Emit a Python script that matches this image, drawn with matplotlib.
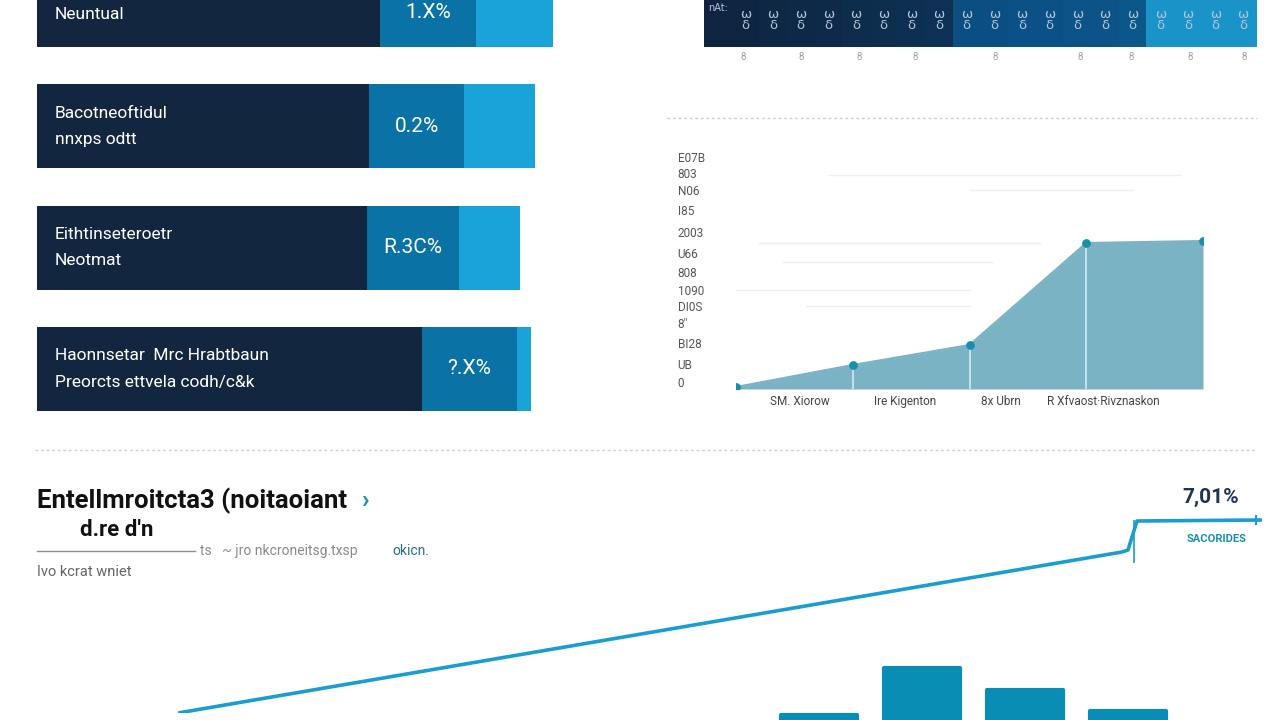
import matplotlib
matplotlib.use("Agg")
import matplotlib.pyplot as plt
from matplotlib.colors import LinearSegmentedColormap
import numpy as np

plt.rcParams['font.family'] = ['Roboto', 'DejaVu Sans']

# ---------------- data ----------------
bar_names = ["Neuntual", "Bacotneoftidul\nnnxps odtt", "Eithtinseteroetr\nNeotmat",
             "Haonnsetar  Mrc Hrabtbaun\nPreorcts ettvela codh/c&k"]
bar_pct = ["1.X%", "0.2%", "R.3C%", "?.X%"]
seg_dark = [343, 332, 330, 385]
seg_mid = [96, 95, 92, 95]
seg_light = [77, 71, 61, 14]

strip_vals = [0.00, 0.02, 0.04, 0.06, 0.08, 0.10, 0.12, 0.14, 0.16, 0.50, 0.50, 0.52,
              0.52, 0.54, 0.54, 0.56, 1.00, 1.00, 1.00, 1.00]
strip_glyphs = ["nAt:"] + ["ω\nδ"] * 19
strip_ticks = ["8", "8", "8", "8", "8", "8", "8", "8", "8"]

area_labels = ["SM. Xiorow", "Ire Kigenton", "8x Ubrn", "R Xfvaost·Rivznaskon"]
area_vals = [2, 24, 44, 146, 148]
area_ytick_vals = [232, 216, 199, 179, 157, 136, 117, 99, 83, 66, 46, 25, 7]
area_ytick_labels = ["E07B", "803", "N06", "I85", "2003", "U66", "808", "1090",
                     "DI0S", "8\"", "BI28", "UB", "0"]

trend_x = [0, 944, 950, 959, 1084]
trend_y = [0, 161, 163, 192, 193]

bottom_bars = [45, 92, 70, 49]

DARK = "#13263f"
MID = "#0b72a6"
LIGHT = "#1aa3d8"

fig = plt.figure(figsize=(12.8, 7.2), dpi=100)
fig.patch.set_facecolor("white")


def px_axes(x0, y0, x1, y1, **kw):
    return fig.add_axes([x0 / 1280, 1 - y1 / 720, (x1 - x0) / 1280, (y1 - y0) / 720], **kw)


# ---------------- left stacked bars ----------------
axb = px_axes(37, -60, 553, 430)
pos = np.arange(len(seg_dark))
h = 84 / 121.33
axb.barh(pos, seg_dark, height=h, color=DARK)
axb.barh(pos, seg_mid, left=seg_dark, height=h, color=MID)
axb.barh(pos, seg_light, left=np.array(seg_dark) + np.array(seg_mid), height=h, color=LIGHT)
axb.set_xlim(0, 516)
axb.set_ylim(3 + 61 / 121.33, -65 / 121.33)
axb.axis("off")
for i, (nm, pc) in enumerate(zip(bar_names, bar_pct)):
    dy_name = 0.075 if i == 0 else 0.0
    dy_pct = 0.06 if i == 0 else 0.0
    axb.text(18, i + dy_name, nm, color="white", fontsize=12.5, va="center", ha="left",
             linespacing=1.95)
    axb.text(seg_dark[i] + seg_mid[i] / 2, i + dy_pct, pc, color="white", fontsize=15,
             va="center", ha="center")

# ---------------- top-right strip ----------------
axs = px_axes(704, -20, 1257, 47)
cmap = LinearSegmentedColormap.from_list("strip", ["#0f2440", "#0b4f82", "#1a93c9"])
axs.imshow(np.array([strip_vals]), cmap=cmap, aspect="auto", vmin=0, vmax=1,
           extent=(0, len(strip_vals), 0, 1))
axs.set_xlim(0, len(strip_vals))
axs.set_ylim(0, 1)
axs.axis("off")
for i, g in enumerate(strip_glyphs):
    axs.text(i + 0.5, 0.58 if i == 0 else 0.40, g, color="#b4c6d6",
             fontsize=7 if i == 0 else 9.5,
             ha="center", va="center", linespacing=0.8,
             family=["DejaVu Sans"])
tick_pos_px = [743, 801, 859, 915, 995, 1080, 1131, 1190, 1244]
for tp, tl in zip(tick_pos_px, strip_ticks):
    fig.text(tp / 1280, 1 - 57 / 720, tl, color="#9aa3aa", fontsize=7, ha="center", va="center")

# ---------------- area chart ----------------
axa = px_axes(736, 150, 1203, 389)
xa = np.arange(len(area_vals))
for yv, x0f, x1f in [(214, 0.2, 0.95), (199, 0.5, 0.85), (146, 0.05, 0.65),
                     (127, 0.1, 0.55), (99, -0.1, 0.5), (83, 0.15, 0.5)]:
    axa.axhline(yv, xmin=x0f, xmax=x1f, color="#eceff1", lw=1, zorder=0)
axa.fill_between(xa, area_vals, 0, color="#7ab3c4", zorder=1, lw=0)
axa.plot(xa, area_vals, color="#7ab3c4", lw=1.5, zorder=2)
axa.vlines(xa[1:-1], 0, np.array(area_vals[1:-1]) - 2, color="#d6e8ee", lw=1.2, zorder=2)
axa.scatter(xa, area_vals, s=28, color="#1a8fab", zorder=3)
axa.set_xlim(0, len(area_vals) - 1)
axa.set_ylim(0, 239)
axa.set_yticks(area_ytick_vals)
axa.set_yticklabels(area_ytick_labels)
for lab in axa.get_yticklabels():
    lab.set_ha("left")
axa.tick_params(axis="y", length=0, pad=42, labelsize=8.5, labelcolor="#555555")
axa.set_xticks([0.55, 1.45, 2.27, 3.15])
axa.set_xticklabels(area_labels)
axa.tick_params(axis="x", length=0, pad=4, labelsize=8.5, labelcolor="#444444")
for sp in axa.spines.values():
    sp.set_visible(False)
axa.set_facecolor("none")

# ---------------- bottom trend line ----------------
axt = px_axes(178, 497, 1262, 713)
axt.plot(trend_x, trend_y, color="#1a9dd0", lw=2.6, solid_capstyle="round",
         solid_joinstyle="round")
axt.vlines(trend_x[2] + 6, 150, 193, color="#1a9dd0", lw=1.2)
axt.plot([trend_x[-1] - 6, trend_x[-1] - 6], [189, 197], color="#1a9dd0", lw=1.5)
axt.set_xlim(0, 1084)
axt.set_ylim(0, 216)
axt.axis("off")

# ---------------- bottom bars ----------------
axc = px_axes(700, 640, 1250, 760)
axc.bar(np.arange(len(bottom_bars)), bottom_bars, width=0.74, color="#0a8db5",
        edgecolor="#0a8db5", linewidth=3, joinstyle="round")
axc.set_xlim(-(819 - 700) / 103, 3 + (1250 - 1128) / 103)
axc.set_ylim(0, 120)
axc.axis("off")

# ---------------- overlay: separators & texts ----------------
ov = fig.add_axes([0, 0, 1, 1], zorder=-1)
ov.set_xlim(0, 1280)
ov.set_ylim(720, 0)
ov.axis("off")
ov.plot([667, 1257], [118, 118], color="#c9d1d7", lw=1, ls=(0, (2, 2)))
ov.plot([35, 1257], [450, 450], color="#c9d1d7", lw=1, ls=(0, (2, 2)))
ov.plot([37, 195], [551, 551], color="#8c8c8c", lw=1)

fig.text(37 / 1280, 1 - 501 / 720, "Entellmroitcta3 (noitaoiant", fontsize=18.5,
         fontweight="bold", color="#111111", ha="left", va="center")
fig.text(361 / 1280, 1 - 501 / 720, "›", fontsize=18, fontweight="bold",
         color="#1a8fab", ha="left", va="center")
fig.text(80 / 1280, 1 - 530 / 720, "d.re d'n", fontsize=16, fontweight="bold",
         color="#111111", ha="left", va="center")
fig.text(200 / 1280, 1 - 551 / 720, "ts   ~ jro nkcroneitsg.txsp", fontsize=10,
         color="#8a8a8a", ha="left", va="center")
fig.text(392 / 1280, 1 - 551 / 720, "okicn.", fontsize=10, color="#2a6d8f",
         ha="left", va="center")
fig.text(37 / 1280, 1 - 572 / 720, "Ivo kcrat wniet", fontsize=10.5, color="#666666",
         ha="left", va="center")
fig.text(1211 / 1280, 1 - 497 / 720, "7,01%", fontsize=15, fontweight="bold",
         color="#1e3450", ha="center", va="center")
fig.text(1217 / 1280, 1 - 539 / 720, "SACORIDES", fontsize=8, fontweight="bold",
         color="#1a8fab", ha="center", va="center")

fig.savefig("out.png", dpi=100, facecolor="white")
